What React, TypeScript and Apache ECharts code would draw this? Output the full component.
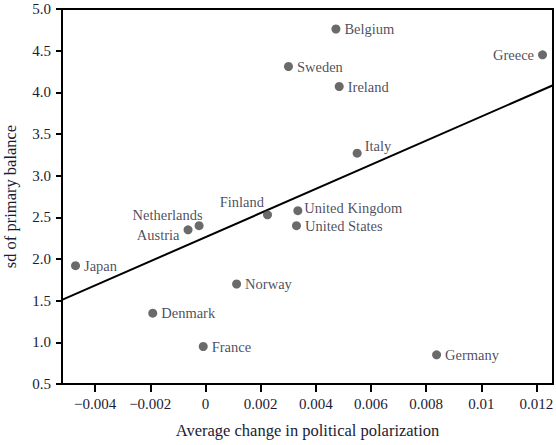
import React, { useEffect, useRef } from "react";
import * as echarts from "echarts";

// Countries with average change in polarization (x) and sd of primary balance (y)
const countries = [
  "Belgium", "Sweden", "Ireland", "Greece", "Italy", "United Kingdom", "United States",
  "Finland", "Netherlands", "Austria", "Japan", "Norway", "Denmark", "France", "Germany",
];
const polarization = [
  0.00473, 0.00301, 0.00485, 0.01222, 0.0055, 0.00335, 0.0033,
  0.00225, -0.00023, -0.00063, -0.00471, 0.00113, -0.00191, -0.00008, 0.00838,
];
const sdBalance = [
  4.76, 4.31, 4.07, 4.45, 3.27, 2.58, 2.4,
  2.53, 2.4, 2.35, 1.92, 1.7, 1.35, 0.95, 0.85,
];

// Fitted regression line
const fitIntercept = 2.262;
const fitSlope = 144.7;

const xMin = -0.0052;
const xMax = 0.0126;
const xTicks = [-0.004, -0.002, 0, 0.002, 0.004, 0.006, 0.008, 0.01, 0.012];

const TEXT = "#1b1b33";
const DOT = "#454545";
const FONT = "Liberation Serif";

// label placement per country: [position, offsetX, offsetY]
const labelPlacement: Record<string, [string, number, number]> = {
  Greece: ["left", 0, 0],
  Italy: ["right", -1, -7],
  "United Kingdom": ["right", -2, -3],
  Finland: ["left", 5, -13],
  Netherlands: ["left", 12, -11],
  Austria: ["left", 0, 5],
};

const fmtX = (v: number) => {
  if (Math.abs(v) < 1e-12) return "0";
  const s = String(Math.abs(Number(v.toFixed(3))));
  return v < 0 ? "\u2212" + s : s;
};

export default function App() {
  const ref = useRef<HTMLDivElement>(null);
  useEffect(() => {
    if (!ref.current) return;
    const chart = echarts.init(ref.current, null, { renderer: "svg" });
    const points = countries.map((name, i) => {
      const p = labelPlacement[name] || ["right", 0, 0];
      return {
        name,
        value: [polarization[i], sdBalance[i]],
        label: { position: p[0], offset: [p[1], p[2]] },
      };
    });
    chart.setOption({
      animation: false,
      textStyle: { fontFamily: FONT },
      grid: {
        left: 62,
        right: 3,
        top: 9,
        bottom: 61,
        show: true,
        borderColor: "#000",
        borderWidth: 2,
        containLabel: false,
        outerBoundsMode: "none",
      },
      xAxis: {
        type: "value",
        min: xMin,
        max: xMax,
        name: "Average change in political polarization",
        nameLocation: "middle",
        nameGap: 38,
        nameTextStyle: { fontFamily: FONT, fontSize: 16.5, color: TEXT },
        splitLine: { show: false },
        axisLine: { onZero: false, lineStyle: { color: "#000", width: 2 } },
        axisTick: { show: true, customValues: xTicks, length: 8, lineStyle: { color: "#000", width: 2 } },
        axisLabel: {
          customValues: xTicks,
          formatter: fmtX,
          margin: 12,
          fontFamily: FONT,
          fontSize: 15,
          color: TEXT,
        },
      },
      yAxis: {
        type: "value",
        min: 0.5,
        max: 5,
        interval: 0.5,
        name: "sd of primary balance",
        nameLocation: "middle",
        nameGap: 43,
        nameTextStyle: { fontFamily: FONT, fontSize: 16.5, color: TEXT },
        splitLine: { show: false },
        axisLine: { onZero: false, lineStyle: { color: "#000", width: 2 } },
        axisTick: { show: true, length: 6, lineStyle: { color: "#000", width: 2 } },
        axisLabel: {
          formatter: (v: number) => v.toFixed(1),
          margin: 11,
          fontFamily: FONT,
          fontSize: 15,
          color: TEXT,
        },
      },
      series: [
        {
          type: "line",
          data: [
            [xMin, fitIntercept + fitSlope * xMin],
            [xMax, fitIntercept + fitSlope * xMax],
          ],
          symbol: "none",
          lineStyle: { color: "#000", width: 2 },
          silent: true,
          z: 1,
        },
        {
          type: "scatter",
          data: points,
          symbolSize: 9,
          itemStyle: { color: DOT },
          z: 2,
          label: {
            show: true,
            formatter: (p: any) => p.name,
            distance: 4,
            fontFamily: FONT,
            fontSize: 14.5,
            color: TEXT,
          },
        },
      ],
    });
    return () => chart.dispose();
  }, []);
  return <div ref={ref} style={{ width: 556, height: 445, position: "absolute", left: 0, top: 0 }} />;
}
